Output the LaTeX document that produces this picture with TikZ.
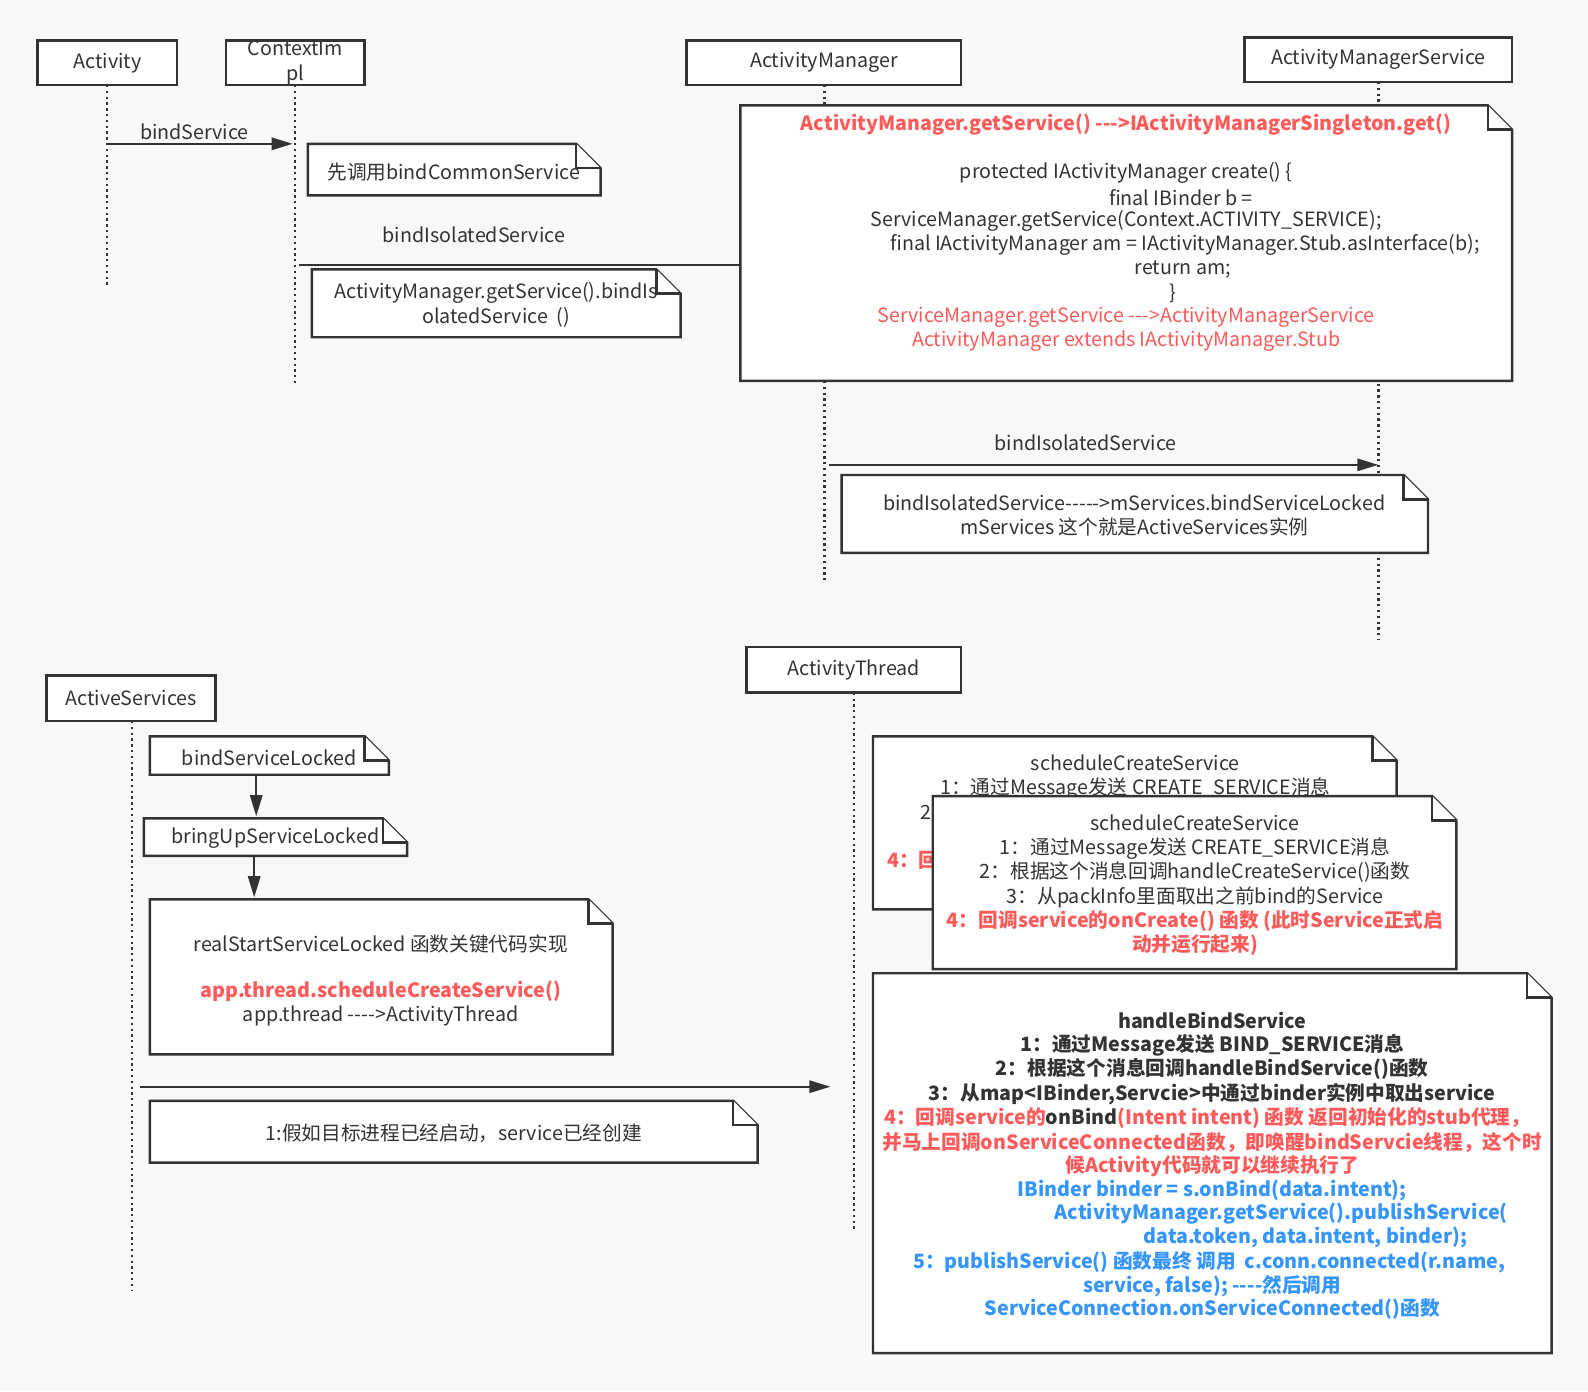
\documentclass[tikz,border=0pt]{standalone}
\usepackage{fontspec}
\setmainfont{Noto Sans CJK SC}
\usetikzlibrary{arrows.meta}
\definecolor{bg}{HTML}{F8F8F8}
\definecolor{ln}{HTML}{333333}
\definecolor{rd}{HTML}{FF5A5A}
\definecolor{bl}{HTML}{3595FF}
\newcommand\notebox[4]{%
  \draw[note] (#1,#2) -- ({#3-24},#2) -- (#3,{#2+24}) -- (#3,#4) -- (#1,#4) -- cycle;
  \draw[note] ({#3-24},#2) -- ({#3-24},{#2+24}) -- (#3,{#2+24});}
\newcommand\hdr[6]{%
  \draw[note] (#1,#2) rectangle (#3,#4);
  \node[txt,align=center] (#5) at ({(#1+#3)/2},{(#2+#4)/2}) {#6};}
\tikzset{
  txt/.style={inner sep=0pt,font=\fontsize{11.2}{13.8}\selectfont,text=ln},
  btxt/.style={txt,font=\fontsize{11.2}{13.8}\selectfont\bfseries},
  note/.style={draw=ln,line width=1.4pt,fill=white},
  life/.style={draw=ln,line width=1.3pt,dotted},
  msg/.style={draw=ln,line width=1.2pt,-{Triangle[length=12pt,width=7pt]}},
}
\begin{document}
\begin{tikzpicture}[x=0.020255cm,y=-0.020255cm]
\fill[bg] (0,0) rectangle (1568,1373.5);
\useasboundingbox (0,0) rectangle (1568,1373.5);
% lifelines
\coordinate (a0) at (106,84); \coordinate (a1) at (106,282);
\coordinate (c0) at (291,84); \coordinate (c1) at (291,378);
\coordinate (m0) at (814,84); \coordinate (m1) at (814,575);
\coordinate (s0) at (1361,81); \coordinate (s1) at (1361,632);
\coordinate (v0) at (130,712); \coordinate (v1) at (130,1275);
\coordinate (t0) at (843,684); \coordinate (t1) at (843,1215);
\foreach \p/\q in {a0/a1,c0/c1,m0/m1,s0/s1,v0/v1,t0/t1} \draw[life] (\p) -- (\q);
% headers
\hdr{37}{40}{175}{84}{hA}{Activity}
\hdr{223}{40}{360}{84}{hC}{ContextIm\\pl}
\hdr{678}{40}{949}{84}{hM}{ActivityManager}
\hdr{1229}{37}{1493}{81}{hS}{ActivityManagerService}
\hdr{46}{667}{213}{712}{hV}{ActiveServices}
\hdr{737}{639}{949}{684}{hT}{ActivityThread}
% arrows
\coordinate (b0) at (106,142); \coordinate (b1) at (289,142);
\draw[msg] (b0) -- (b1);
\node[txt] (lb1) at (192,130) {bindService};
\coordinate (i0) at (295,262); \coordinate (i1) at (731,262);
\draw[draw=ln,line width=1.2pt] (i0) -- (i1);
\node[txt] (lb2) at (468,232) {bindIsolatedService};
\coordinate (j0) at (819,459); \coordinate (j1) at (1361,459);
\draw[msg] (j0) -- (j1);
\node[txt] (lb3) at (1072,437) {bindIsolatedService};
\coordinate (k0) at (138,1073); \coordinate (k1) at (820,1073);
\draw[msg] (k0) -- (k1);
% notes top
\notebox{304}{142}{593}{193}
\node[txt] (n1) at (448,170) {先调用bindCommonService};
\notebox{308}{266}{672}{333}
\node[txt,align=center] (n2) at (490,301) {ActivityManager.getService().bindIs\\olatedService\ \ ()};
\notebox{731}{104}{1493}{376}
\node[btxt,text=rd] (g1) at (1112,123) {ActivityManager.getService() -{}-{}->IActivityManagerSingleton.get()};
\node[txt] (g2) at (1112,171) {protected IActivityManager create() \{};
\node[txt] (g3) at (1166,195) {final IBinder b =};
\node[txt] (g4) at (1112,218) {ServiceManager.getService(Context.ACTIVITY\_SERVICE);};
\node[txt] (g5) at (1170,242) {final IActivityManager am = IActivityManager.Stub.asInterface(b);};
\node[txt] (g6) at (1168,266) {return am;};
\node[txt] (g7) at (1158,290) {\}};
\node[txt,text=rd] (g8) at (1112,313) {ServiceManager.getService -{}-{}->ActivityManagerService};
\node[txt,text=rd] (g9) at (1112,337) {ActivityManager extends IActivityManager.Stub};
\notebox{831}{469}{1410}{546}
\node[txt,align=center] (n3) at (1120,509) {bindIsolatedService-{}-{}-{}-{}->mServices.bindServiceLocked\\mServices 这个就是ActiveServices实例};
% bottom left
\notebox{148}{727}{384}{765}
\node[txt] (n4) at (266,748) {bindServiceLocked};
\notebox{142}{808}{402}{845}
\node[txt] (n5) at (272,828) {bringUpServiceLocked};
\coordinate (e0) at (253,765); \coordinate (e1) at (253,806);
\draw[msg] (e0) -- (e1);
\coordinate (f0) at (251,845); \coordinate (f1) at (251,886);
\draw[msg] (f0) -- (f1);
\notebox{148}{888}{605}{1041}
\node[txt] (r1) at (376,932) {realStartServiceLocked 函数关键代码实现};
\node[btxt,text=rd] (r2) at (376,979) {app.thread.scheduleCreateService()};
\node[txt] (r3) at (376,1003) {app.thread -{}-{}-{}->ActivityThread};
\notebox{148}{1087}{748}{1148}
\node[txt] (n6) at (448,1119) {1:假如目标进程已经启动，service已经创建};
% schedule notes
\notebox{862}{727}{1379}{898}
\node[txt,align=center] (sc1) at (1121,815) {scheduleCreateService\\1：通过Message发送 CREATE\_SERVICE消息\\2：根据这个消息回调handleCreateService()函数\\3：从packInfo里面取出之前bind的Service\\\textcolor{rd}{\bfseries 4：回调service的onCreate() 函数 (此时Service正式启}\\\textcolor{rd}{\bfseries 动并运行起来)}};
\notebox{921}{786}{1438}{957}
\node[txt,align=center] (sc2) at (1180,874) {scheduleCreateService\\1：通过Message发送 CREATE\_SERVICE消息\\2：根据这个消息回调handleCreateService()函数\\3：从packInfo里面取出之前bind的Service\\\textcolor{rd}{\bfseries 4：回调service的onCreate() 函数 (此时Service正式启}\\\textcolor{rd}{\bfseries 动并运行起来)}};
% handleBind
\notebox{862}{961}{1532}{1336}
\begin{scope}[every node/.style={btxt}]
\node (h1) at (1197,1008) {handleBindService};
\node (h2) at (1197,1032) {1：通过Message发送 BIND\_SERVICE消息};
\node (h3) at (1197,1056) {2：根据这个消息回调handleBindService()函数};
\node (h4) at (1197,1080) {3：从map<IBinder,Servcie>中通过binder实例中取出service};
\node (h5) at (1192,1104) {\textcolor{rd}{4：回调service的}onBind\textcolor{rd}{(Intent intent) 函数 返回初始化的stub代理，}};
\node[text=rd] (h6) at (1197,1128) {并马上回调onServiceConnected函数，即唤醒bindServcie线程，这个时};
\node[text=rd] (h7) at (1197,1151) {候Activity代码就可以继续执行了};
\node[text=bl] (h8) at (1197,1175) {IBinder binder = s.onBind(data.intent);};
\node[text=bl] (h9) at (1265,1198) {ActivityManager.getService().publishService(};
\node[text=bl] (h10) at (1289,1222) {data.token, data.intent, binder);};
\node[text=bl] (h11) at (1194,1246) {5：publishService() 函数最终 调用\ \ c.conn.connected(r.name,};
\node[text=bl] (h12) at (1197,1270) {service, false); -{}-{}-{}-然后调用};
\node[text=bl] (h13) at (1197,1293) {ServiceConnection.onServiceConnected()函数};
\end{scope}
\end{tikzpicture}
\end{document}
